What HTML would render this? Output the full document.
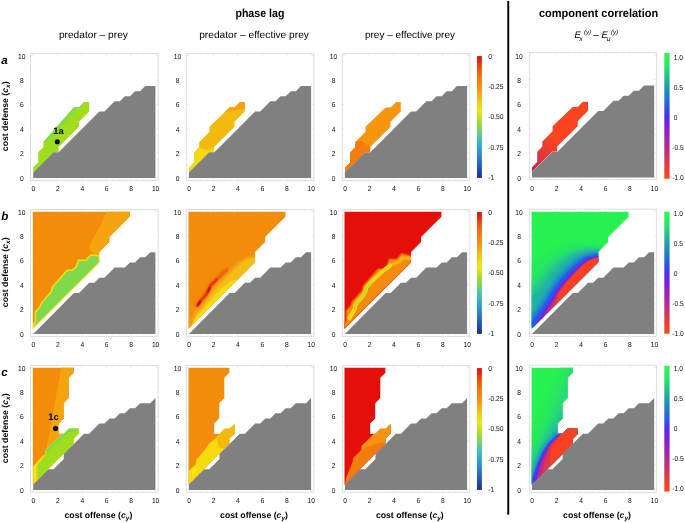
<!DOCTYPE html>
<html lang="en"><head><meta charset="utf-8"><title>phase lag and component correlation</title><style>
html,body{margin:0;padding:0;background:#fff;}
svg{display:block;}
text{font-family:"Liberation Sans", sans-serif;fill:#000;text-rendering:geometricPrecision;}
.tk{font-size:7.2px;text-anchor:middle;fill:#111;}
.cb{font-size:7.2px;fill:#111;}
.ttl{font-size:11.6px;font-weight:bold;}
.sub{font-size:10px;fill:#000;}
.ss{font-size:6.8px;}
.sp{font-size:6.2px;}
.sb{font-size:6.4px;}
.let{font-size:11.6px;font-weight:bold;font-style:italic;}
.ax{font-size:8.7px;font-weight:bold;}
.pt{font-size:9.4px;font-weight:bold;text-anchor:middle;}
</style></head>
<body>
<svg width="685" height="523" viewBox="0 0 685 523">
<defs><clipPath id="e00"><polygon points="33.20,172.52 33.20,167.43 38.29,162.35 38.29,152.18 43.38,147.10 43.38,142.02 53.57,131.85 53.57,126.77 73.93,107.20 79.03,107.20 84.12,102.11 89.21,102.11 89.21,111.52 79.03,121.68 79.03,126.77 58.66,147.10 58.66,152.18 53.57,152.18"/></clipPath>
<clipPath id="e10"><polygon points="188.90,172.52 188.90,167.43 193.99,162.35 193.99,152.18 199.08,147.10 199.08,142.02 209.27,131.85 209.27,126.77 229.63,107.20 234.73,107.20 239.82,102.11 244.91,102.11 244.91,111.52 234.73,121.68 234.73,126.77 214.36,147.10 214.36,152.18 209.27,152.18"/></clipPath>
<clipPath id="e20"><polygon points="344.90,172.52 344.90,167.43 349.99,162.35 349.99,152.18 355.08,147.10 355.08,142.02 365.27,131.85 365.27,126.77 385.63,107.20 390.72,107.20 395.82,102.11 400.91,102.11 400.91,111.52 390.72,121.68 390.72,126.77 370.36,147.10 370.36,152.18 365.27,152.18"/></clipPath>
<clipPath id="e30"><polygon points="532.00,172.02 532.00,166.93 537.09,161.85 537.09,151.68 542.18,146.60 542.18,141.52 552.37,131.35 552.37,126.27 572.73,106.70 577.83,106.70 582.92,101.61 588.01,101.61 588.01,111.02 577.83,121.18 577.83,126.27 557.46,146.60 557.46,151.68 552.37,151.68"/></clipPath>
<linearGradient id="ga4" gradientUnits="userSpaceOnUse" x1="532.0" y1="172.0" x2="567.6" y2="126.3"><stop offset="0" stop-color="#b4285f"/><stop offset="0.25" stop-color="#d83448"/><stop offset="0.5" stop-color="#ee3c30"/><stop offset="0.7" stop-color="#fb4420"/><stop offset="1" stop-color="#fb4420"/></linearGradient>
<clipPath id="e01"><polygon points="32.59,329.13 32.59,211.60 129.94,211.60 129.94,216.68 109.58,237.02 109.58,242.10 99.39,252.27 99.39,262.43"/></clipPath>
<clipPath id="e11"><polygon points="188.29,329.13 188.29,211.60 285.64,211.60 285.64,216.68 265.27,237.02 265.27,242.10 255.09,252.27 255.09,262.43"/></clipPath>
<clipPath id="e21"><polygon points="344.29,329.13 344.29,211.60 441.64,211.60 441.64,216.68 421.27,237.02 421.27,242.10 411.09,252.27 411.09,262.43"/></clipPath>
<clipPath id="e31"><polygon points="531.39,329.13 531.39,211.60 628.74,211.60 628.74,216.68 608.38,237.02 608.38,242.10 598.19,252.27 598.19,262.43"/></clipPath>
<clipPath id="e02"><polygon points="32.59,485.13 32.59,367.60 73.93,367.60 73.93,372.68 68.84,377.77 68.84,398.10 63.75,403.18 63.75,418.43 58.66,423.52 58.66,433.68 63.75,433.68 68.84,428.60 79.03,428.60 79.03,433.68 73.93,438.77 73.93,443.85 48.48,469.27"/></clipPath>
<clipPath id="e12"><polygon points="188.29,485.13 188.29,367.60 229.63,367.60 229.63,372.68 224.54,377.77 224.54,398.10 219.45,403.18 219.45,418.43 214.36,423.52 214.36,433.68 219.45,433.68 224.54,428.60 229.63,428.60 234.73,423.52 234.73,433.68 229.63,438.77 229.63,443.85 204.18,469.27"/></clipPath>
<clipPath id="e22"><polygon points="344.29,485.13 344.29,367.60 385.63,367.60 385.63,372.68 380.54,377.77 380.54,398.10 375.45,403.18 375.45,418.43 370.36,423.52 370.36,433.68 375.45,433.68 380.54,428.60 385.63,428.60 390.72,423.52 390.72,433.68 385.63,438.77 385.63,443.85 360.17,469.27"/></clipPath>
<clipPath id="e32"><polygon points="531.39,485.13 531.39,367.60 572.73,367.60 572.73,372.68 567.64,377.77 567.64,398.10 562.55,403.18 562.55,418.43 557.46,423.52 557.46,433.68 562.55,433.68 567.64,428.60 577.83,428.60 577.83,433.68 572.73,438.77 572.73,443.85 547.27,469.27"/></clipPath>
<linearGradient id="cb1" x1="0" y1="0" x2="0" y2="1"><stop offset="0" stop-color="#d41010"/><stop offset="0.04" stop-color="#e4280e"/><stop offset="0.1" stop-color="#f0540e"/><stop offset="0.18" stop-color="#f4780e"/><stop offset="0.27" stop-color="#f5960f"/><stop offset="0.38" stop-color="#f5cc10"/><stop offset="0.45" stop-color="#f0e614"/><stop offset="0.54" stop-color="#a4dc28"/><stop offset="0.64" stop-color="#5ccc90"/><stop offset="0.72" stop-color="#30b4d2"/><stop offset="0.85" stop-color="#2878c8"/><stop offset="0.95" stop-color="#1e44a8"/><stop offset="1" stop-color="#183094"/></linearGradient>
<linearGradient id="cb2" x1="0" y1="0" x2="0" y2="1"><stop offset="0" stop-color="#2cfa52"/><stop offset="0.12" stop-color="#26e070"/><stop offset="0.27" stop-color="#1e9ca8"/><stop offset="0.42" stop-color="#2a5ce0"/><stop offset="0.5" stop-color="#4a30f0"/><stop offset="0.56" stop-color="#7420e0"/><stop offset="0.75" stop-color="#b42a8c"/><stop offset="0.9" stop-color="#e63c3c"/><stop offset="1" stop-color="#ff4814"/></linearGradient>
<filter id="b1" x="-20%" y="-20%" width="140%" height="140%"><feGaussianBlur stdDeviation="1"/></filter>
<filter id="b15" x="-20%" y="-20%" width="140%" height="140%"><feGaussianBlur stdDeviation="1.6"/></filter>
<filter id="b05" x="-20%" y="-20%" width="140%" height="140%"><feGaussianBlur stdDeviation="0.6"/></filter></defs>
<rect width="685" height="523" fill="#fff"/>
<polygon points="33.20,172.52 33.20,167.43 38.29,162.35 38.29,152.18 43.38,147.10 43.38,142.02 73.93,107.20 79.03,107.20 84.12,102.11 89.21,102.11 89.21,111.52 79.03,121.68 79.03,126.77 58.66,147.10 58.66,152.18 53.57,152.18" fill="#9fde1c" /><polygon points="43.38,142.02 73.93,107.20 79.03,107.20 84.12,102.11 82.08,105.92 76.48,109.48 46.95,141.51" fill="#7fd94e" /><g clip-path="url(#e00)"></g><polygon points="33.20,178.11 33.20,172.52 53.57,152.18 58.66,152.18 99.39,111.52 104.48,111.52 114.67,101.35 119.76,101.35 124.85,96.27 129.94,96.27 135.03,91.18 140.12,91.18 145.22,86.10 155.40,86.10 155.40,178.11" fill="#808080" />
<rect x="30.50" y="53.50" width="127.70" height="126.90" fill="none" stroke="#dadada" stroke-width="0.8"/><path d="M33.20 180.40v-2.0M33.20 53.50v2.0M30.50 177.60h2.0M158.20 177.60h-2.0M39.31 180.40v-1.0M39.31 53.50v1.0M30.50 171.50h1.0M158.20 171.50h-1.0M45.42 180.40v-1.0M45.42 53.50v1.0M30.50 165.40h1.0M158.20 165.40h-1.0M51.53 180.40v-1.0M51.53 53.50v1.0M30.50 159.30h1.0M158.20 159.30h-1.0M57.64 180.40v-2.0M57.64 53.50v2.0M30.50 153.20h2.0M158.20 153.20h-2.0M63.75 180.40v-1.0M63.75 53.50v1.0M30.50 147.10h1.0M158.20 147.10h-1.0M69.86 180.40v-1.0M69.86 53.50v1.0M30.50 141.00h1.0M158.20 141.00h-1.0M75.97 180.40v-1.0M75.97 53.50v1.0M30.50 134.90h1.0M158.20 134.90h-1.0M82.08 180.40v-2.0M82.08 53.50v2.0M30.50 128.80h2.0M158.20 128.80h-2.0M88.19 180.40v-1.0M88.19 53.50v1.0M30.50 122.70h1.0M158.20 122.70h-1.0M94.30 180.40v-1.0M94.30 53.50v1.0M30.50 116.60h1.0M158.20 116.60h-1.0M100.41 180.40v-1.0M100.41 53.50v1.0M30.50 110.50h1.0M158.20 110.50h-1.0M106.52 180.40v-2.0M106.52 53.50v2.0M30.50 104.40h2.0M158.20 104.40h-2.0M112.63 180.40v-1.0M112.63 53.50v1.0M30.50 98.30h1.0M158.20 98.30h-1.0M118.74 180.40v-1.0M118.74 53.50v1.0M30.50 92.20h1.0M158.20 92.20h-1.0M124.85 180.40v-1.0M124.85 53.50v1.0M30.50 86.10h1.0M158.20 86.10h-1.0M130.96 180.40v-2.0M130.96 53.50v2.0M30.50 80.00h2.0M158.20 80.00h-2.0M137.07 180.40v-1.0M137.07 53.50v1.0M30.50 73.90h1.0M158.20 73.90h-1.0M143.18 180.40v-1.0M143.18 53.50v1.0M30.50 67.80h1.0M158.20 67.80h-1.0M149.29 180.40v-1.0M149.29 53.50v1.0M30.50 61.70h1.0M158.20 61.70h-1.0M155.40 180.40v-2.0M155.40 53.50v2.0M30.50 55.60h2.0M158.20 55.60h-2.0" stroke="#cfcfcf" stroke-width="0.5" fill="none"/><text transform="translate(33.40 191.40) scale(0.93 1)" class="tk">0</text><text transform="translate(21.80 181) scale(0.93 1)" class="tk">0</text><text transform="translate(57.84 191.40) scale(0.93 1)" class="tk">2</text><text transform="translate(21.80 156) scale(0.93 1)" class="tk">2</text><text transform="translate(82.28 191.40) scale(0.93 1)" class="tk">4</text><text transform="translate(21.80 132) scale(0.93 1)" class="tk">4</text><text transform="translate(106.72 191.40) scale(0.93 1)" class="tk">6</text><text transform="translate(21.80 107) scale(0.93 1)" class="tk">6</text><text transform="translate(131.16 191.40) scale(0.93 1)" class="tk">8</text><text transform="translate(21.80 83) scale(0.93 1)" class="tk">8</text><text transform="translate(155.60 191.40) scale(0.93 1)" class="tk">10</text><text transform="translate(21.80 59) scale(0.93 1)" class="tk">10</text>
<g clip-path="url(#e10)"><polygon points="188.90,172.52 188.90,167.43 193.99,162.35 193.99,152.18 199.08,147.10 199.08,142.02 209.27,131.85 209.27,126.77 229.63,107.20 234.73,107.20 239.82,102.11 244.91,102.11 244.91,111.52 234.73,121.68 234.73,126.77 214.36,147.10 214.36,152.18 209.27,152.18" fill="#f3ba10" /><polygon points="188.90,172.52 188.90,167.43 193.99,162.35 193.99,152.18 199.08,147.10 199.08,148.12 207.23,150.15 214.36,148.12 214.36,152.18 209.27,152.18" fill="#f5d910" filter="url(#b05)"/><polygon points="224.54,112.28 229.63,106.43 234.73,106.43 239.82,101.35 244.91,101.35 244.91,108.67 236.76,109.48 225.31,112.18" fill="#f5a00c" /></g><polygon points="188.90,178.11 188.90,172.52 209.27,152.18 214.36,152.18 255.09,111.52 260.18,111.52 270.37,101.35 275.46,101.35 280.55,96.27 285.64,96.27 290.73,91.18 295.83,91.18 300.92,86.10 311.10,86.10 311.10,178.11" fill="#808080" />
<rect x="186.20" y="53.50" width="127.70" height="126.90" fill="none" stroke="#dadada" stroke-width="0.8"/><path d="M188.90 180.40v-2.0M188.90 53.50v2.0M186.20 177.60h2.0M313.90 177.60h-2.0M195.01 180.40v-1.0M195.01 53.50v1.0M186.20 171.50h1.0M313.90 171.50h-1.0M201.12 180.40v-1.0M201.12 53.50v1.0M186.20 165.40h1.0M313.90 165.40h-1.0M207.23 180.40v-1.0M207.23 53.50v1.0M186.20 159.30h1.0M313.90 159.30h-1.0M213.34 180.40v-2.0M213.34 53.50v2.0M186.20 153.20h2.0M313.90 153.20h-2.0M219.45 180.40v-1.0M219.45 53.50v1.0M186.20 147.10h1.0M313.90 147.10h-1.0M225.56 180.40v-1.0M225.56 53.50v1.0M186.20 141.00h1.0M313.90 141.00h-1.0M231.67 180.40v-1.0M231.67 53.50v1.0M186.20 134.90h1.0M313.90 134.90h-1.0M237.78 180.40v-2.0M237.78 53.50v2.0M186.20 128.80h2.0M313.90 128.80h-2.0M243.89 180.40v-1.0M243.89 53.50v1.0M186.20 122.70h1.0M313.90 122.70h-1.0M250.00 180.40v-1.0M250.00 53.50v1.0M186.20 116.60h1.0M313.90 116.60h-1.0M256.11 180.40v-1.0M256.11 53.50v1.0M186.20 110.50h1.0M313.90 110.50h-1.0M262.22 180.40v-2.0M262.22 53.50v2.0M186.20 104.40h2.0M313.90 104.40h-2.0M268.33 180.40v-1.0M268.33 53.50v1.0M186.20 98.30h1.0M313.90 98.30h-1.0M274.44 180.40v-1.0M274.44 53.50v1.0M186.20 92.20h1.0M313.90 92.20h-1.0M280.55 180.40v-1.0M280.55 53.50v1.0M186.20 86.10h1.0M313.90 86.10h-1.0M286.66 180.40v-2.0M286.66 53.50v2.0M186.20 80.00h2.0M313.90 80.00h-2.0M292.77 180.40v-1.0M292.77 53.50v1.0M186.20 73.90h1.0M313.90 73.90h-1.0M298.88 180.40v-1.0M298.88 53.50v1.0M186.20 67.80h1.0M313.90 67.80h-1.0M304.99 180.40v-1.0M304.99 53.50v1.0M186.20 61.70h1.0M313.90 61.70h-1.0M311.10 180.40v-2.0M311.10 53.50v2.0M186.20 55.60h2.0M313.90 55.60h-2.0" stroke="#cfcfcf" stroke-width="0.5" fill="none"/><text transform="translate(189.10 191.40) scale(0.93 1)" class="tk">0</text><text transform="translate(177.50 181) scale(0.93 1)" class="tk">0</text><text transform="translate(213.54 191.40) scale(0.93 1)" class="tk">2</text><text transform="translate(177.50 156) scale(0.93 1)" class="tk">2</text><text transform="translate(237.98 191.40) scale(0.93 1)" class="tk">4</text><text transform="translate(177.50 132) scale(0.93 1)" class="tk">4</text><text transform="translate(262.42 191.40) scale(0.93 1)" class="tk">6</text><text transform="translate(177.50 107) scale(0.93 1)" class="tk">6</text><text transform="translate(286.86 191.40) scale(0.93 1)" class="tk">8</text><text transform="translate(177.50 83) scale(0.93 1)" class="tk">8</text><text transform="translate(311.30 191.40) scale(0.93 1)" class="tk">10</text><text transform="translate(177.50 59) scale(0.93 1)" class="tk">10</text>
<g clip-path="url(#e20)"><polygon points="344.90,172.52 344.90,167.43 349.99,162.35 349.99,152.18 355.08,147.10 355.08,142.02 365.27,131.85 365.27,126.77 385.63,107.20 390.72,107.20 395.82,102.11 400.91,102.11 400.91,111.52 390.72,121.68 390.72,126.77 370.36,147.10 370.36,152.18 365.27,152.18" fill="#f7950f" /><polygon points="344.90,172.52 344.90,167.43 349.99,162.35 349.99,152.18 355.08,147.10 355.08,142.02 360.17,140.49 364.25,143.03 370.36,147.10 370.36,152.18 365.27,152.18" fill="#f47d0e" /></g><polygon points="344.90,178.11 344.90,172.52 365.27,152.18 370.36,152.18 411.09,111.52 416.18,111.52 426.37,101.35 431.46,101.35 436.55,96.27 441.64,96.27 446.73,91.18 451.82,91.18 456.92,86.10 467.10,86.10 467.10,178.11" fill="#808080" />
<rect x="342.20" y="53.50" width="127.70" height="126.90" fill="none" stroke="#dadada" stroke-width="0.8"/><path d="M344.90 180.40v-2.0M344.90 53.50v2.0M342.20 177.60h2.0M469.90 177.60h-2.0M351.01 180.40v-1.0M351.01 53.50v1.0M342.20 171.50h1.0M469.90 171.50h-1.0M357.12 180.40v-1.0M357.12 53.50v1.0M342.20 165.40h1.0M469.90 165.40h-1.0M363.23 180.40v-1.0M363.23 53.50v1.0M342.20 159.30h1.0M469.90 159.30h-1.0M369.34 180.40v-2.0M369.34 53.50v2.0M342.20 153.20h2.0M469.90 153.20h-2.0M375.45 180.40v-1.0M375.45 53.50v1.0M342.20 147.10h1.0M469.90 147.10h-1.0M381.56 180.40v-1.0M381.56 53.50v1.0M342.20 141.00h1.0M469.90 141.00h-1.0M387.67 180.40v-1.0M387.67 53.50v1.0M342.20 134.90h1.0M469.90 134.90h-1.0M393.78 180.40v-2.0M393.78 53.50v2.0M342.20 128.80h2.0M469.90 128.80h-2.0M399.89 180.40v-1.0M399.89 53.50v1.0M342.20 122.70h1.0M469.90 122.70h-1.0M406.00 180.40v-1.0M406.00 53.50v1.0M342.20 116.60h1.0M469.90 116.60h-1.0M412.11 180.40v-1.0M412.11 53.50v1.0M342.20 110.50h1.0M469.90 110.50h-1.0M418.22 180.40v-2.0M418.22 53.50v2.0M342.20 104.40h2.0M469.90 104.40h-2.0M424.33 180.40v-1.0M424.33 53.50v1.0M342.20 98.30h1.0M469.90 98.30h-1.0M430.44 180.40v-1.0M430.44 53.50v1.0M342.20 92.20h1.0M469.90 92.20h-1.0M436.55 180.40v-1.0M436.55 53.50v1.0M342.20 86.10h1.0M469.90 86.10h-1.0M442.66 180.40v-2.0M442.66 53.50v2.0M342.20 80.00h2.0M469.90 80.00h-2.0M448.77 180.40v-1.0M448.77 53.50v1.0M342.20 73.90h1.0M469.90 73.90h-1.0M454.88 180.40v-1.0M454.88 53.50v1.0M342.20 67.80h1.0M469.90 67.80h-1.0M460.99 180.40v-1.0M460.99 53.50v1.0M342.20 61.70h1.0M469.90 61.70h-1.0M467.10 180.40v-2.0M467.10 53.50v2.0M342.20 55.60h2.0M469.90 55.60h-2.0" stroke="#cfcfcf" stroke-width="0.5" fill="none"/><text transform="translate(345.10 191.40) scale(0.93 1)" class="tk">0</text><text transform="translate(333.50 181) scale(0.93 1)" class="tk">0</text><text transform="translate(369.54 191.40) scale(0.93 1)" class="tk">2</text><text transform="translate(333.50 156) scale(0.93 1)" class="tk">2</text><text transform="translate(393.98 191.40) scale(0.93 1)" class="tk">4</text><text transform="translate(333.50 132) scale(0.93 1)" class="tk">4</text><text transform="translate(418.42 191.40) scale(0.93 1)" class="tk">6</text><text transform="translate(333.50 107) scale(0.93 1)" class="tk">6</text><text transform="translate(442.86 191.40) scale(0.93 1)" class="tk">8</text><text transform="translate(333.50 83) scale(0.93 1)" class="tk">8</text><text transform="translate(467.30 191.40) scale(0.93 1)" class="tk">10</text><text transform="translate(333.50 59) scale(0.93 1)" class="tk">10</text>
<g clip-path="url(#e30)"><polygon points="532.00,172.02 532.00,166.93 537.09,161.85 537.09,151.68 542.18,146.60 542.18,141.52 552.37,131.35 552.37,126.27 572.73,106.70 577.83,106.70 582.92,101.61 588.01,101.61 588.01,111.02 577.83,121.18 577.83,126.27 557.46,146.60 557.46,151.68 552.37,151.68" fill="url(#ga4)" /></g><polygon points="532.00,177.61 532.00,172.02 552.37,151.68 557.46,151.68 598.19,111.02 603.28,111.02 613.47,100.85 618.56,100.85 623.65,95.77 628.74,95.77 633.83,90.68 638.92,90.68 644.02,85.60 654.20,85.60 654.20,177.61" fill="#808080" />
<rect x="529.30" y="52.60" width="127.10" height="127.00" fill="none" stroke="#dadada" stroke-width="0.8"/><path d="M532.00 179.60v-2.0M532.00 52.60v2.0M529.30 177.10h2.0M656.40 177.10h-2.0M538.11 179.60v-1.0M538.11 52.60v1.0M529.30 171.00h1.0M656.40 171.00h-1.0M544.22 179.60v-1.0M544.22 52.60v1.0M529.30 164.90h1.0M656.40 164.90h-1.0M550.33 179.60v-1.0M550.33 52.60v1.0M529.30 158.80h1.0M656.40 158.80h-1.0M556.44 179.60v-2.0M556.44 52.60v2.0M529.30 152.70h2.0M656.40 152.70h-2.0M562.55 179.60v-1.0M562.55 52.60v1.0M529.30 146.60h1.0M656.40 146.60h-1.0M568.66 179.60v-1.0M568.66 52.60v1.0M529.30 140.50h1.0M656.40 140.50h-1.0M574.77 179.60v-1.0M574.77 52.60v1.0M529.30 134.40h1.0M656.40 134.40h-1.0M580.88 179.60v-2.0M580.88 52.60v2.0M529.30 128.30h2.0M656.40 128.30h-2.0M586.99 179.60v-1.0M586.99 52.60v1.0M529.30 122.20h1.0M656.40 122.20h-1.0M593.10 179.60v-1.0M593.10 52.60v1.0M529.30 116.10h1.0M656.40 116.10h-1.0M599.21 179.60v-1.0M599.21 52.60v1.0M529.30 110.00h1.0M656.40 110.00h-1.0M605.32 179.60v-2.0M605.32 52.60v2.0M529.30 103.90h2.0M656.40 103.90h-2.0M611.43 179.60v-1.0M611.43 52.60v1.0M529.30 97.80h1.0M656.40 97.80h-1.0M617.54 179.60v-1.0M617.54 52.60v1.0M529.30 91.70h1.0M656.40 91.70h-1.0M623.65 179.60v-1.0M623.65 52.60v1.0M529.30 85.60h1.0M656.40 85.60h-1.0M629.76 179.60v-2.0M629.76 52.60v2.0M529.30 79.50h2.0M656.40 79.50h-2.0M635.87 179.60v-1.0M635.87 52.60v1.0M529.30 73.40h1.0M656.40 73.40h-1.0M641.98 179.60v-1.0M641.98 52.60v1.0M529.30 67.30h1.0M656.40 67.30h-1.0M648.09 179.60v-1.0M648.09 52.60v1.0M529.30 61.20h1.0M656.40 61.20h-1.0M654.20 179.60v-2.0M654.20 52.60v2.0M529.30 55.10h2.0M656.40 55.10h-2.0" stroke="#cfcfcf" stroke-width="0.5" fill="none"/><text transform="translate(532.20 191.40) scale(0.93 1)" class="tk">0</text><text transform="translate(519.00 181) scale(0.93 1)" class="tk">0</text><text transform="translate(556.64 191.40) scale(0.93 1)" class="tk">2</text><text transform="translate(519.00 156) scale(0.93 1)" class="tk">2</text><text transform="translate(581.08 191.40) scale(0.93 1)" class="tk">4</text><text transform="translate(519.00 132) scale(0.93 1)" class="tk">4</text><text transform="translate(605.52 191.40) scale(0.93 1)" class="tk">6</text><text transform="translate(519.00 107) scale(0.93 1)" class="tk">6</text><text transform="translate(629.96 191.40) scale(0.93 1)" class="tk">8</text><text transform="translate(519.00 83) scale(0.93 1)" class="tk">8</text><text transform="translate(654.40 191.40) scale(0.93 1)" class="tk">10</text><text transform="translate(519.00 59) scale(0.93 1)" class="tk">10</text>
<g clip-path="url(#e01)"><polygon points="32.59,329.13 32.59,211.60 129.94,211.60 129.94,216.68 109.58,237.02 109.58,242.10 99.39,252.27 99.39,262.43" fill="#f28c0a" /><polygon points="106.52,211.60 101.94,223.29 91.75,240.58 89.21,246.17 89.72,249.73 93.79,253.28 99.39,254.81 99.39,252.27 109.58,242.10 109.58,237.02 129.94,216.68 129.94,211.60" fill="#f5a30f" /><polygon points="33.20,328.52 33.20,325.57 35.44,321.81 35.44,311.89 39.92,306.91 41.19,303.20 51.12,292.02 52.40,287.09 67.31,270.16 72.25,270.16 75.97,267.21 78.52,260.25 85.95,260.25 90.94,254.81 99.39,255.83 99.39,262.43" fill="#80d84c" stroke="#f2e20c" stroke-width="1.5" stroke-linejoin="round"/></g><polygon points="33.20,334.11 73.93,292.93 79.03,292.93 89.21,282.77 94.30,282.77 99.39,277.68 104.48,277.68 114.67,267.52 124.85,267.52 129.94,262.43 135.03,262.43 140.12,257.35 145.22,257.35 150.31,252.27 155.40,252.27 155.40,334.11" fill="#808080" />
<rect x="30.50" y="209.50" width="127.70" height="126.90" fill="none" stroke="#dadada" stroke-width="0.8"/><path d="M33.20 336.40v-2.0M33.20 209.50v2.0M30.50 333.60h2.0M158.20 333.60h-2.0M39.31 336.40v-1.0M39.31 209.50v1.0M30.50 327.50h1.0M158.20 327.50h-1.0M45.42 336.40v-1.0M45.42 209.50v1.0M30.50 321.40h1.0M158.20 321.40h-1.0M51.53 336.40v-1.0M51.53 209.50v1.0M30.50 315.30h1.0M158.20 315.30h-1.0M57.64 336.40v-2.0M57.64 209.50v2.0M30.50 309.20h2.0M158.20 309.20h-2.0M63.75 336.40v-1.0M63.75 209.50v1.0M30.50 303.10h1.0M158.20 303.10h-1.0M69.86 336.40v-1.0M69.86 209.50v1.0M30.50 297.00h1.0M158.20 297.00h-1.0M75.97 336.40v-1.0M75.97 209.50v1.0M30.50 290.90h1.0M158.20 290.90h-1.0M82.08 336.40v-2.0M82.08 209.50v2.0M30.50 284.80h2.0M158.20 284.80h-2.0M88.19 336.40v-1.0M88.19 209.50v1.0M30.50 278.70h1.0M158.20 278.70h-1.0M94.30 336.40v-1.0M94.30 209.50v1.0M30.50 272.60h1.0M158.20 272.60h-1.0M100.41 336.40v-1.0M100.41 209.50v1.0M30.50 266.50h1.0M158.20 266.50h-1.0M106.52 336.40v-2.0M106.52 209.50v2.0M30.50 260.40h2.0M158.20 260.40h-2.0M112.63 336.40v-1.0M112.63 209.50v1.0M30.50 254.30h1.0M158.20 254.30h-1.0M118.74 336.40v-1.0M118.74 209.50v1.0M30.50 248.20h1.0M158.20 248.20h-1.0M124.85 336.40v-1.0M124.85 209.50v1.0M30.50 242.10h1.0M158.20 242.10h-1.0M130.96 336.40v-2.0M130.96 209.50v2.0M30.50 236.00h2.0M158.20 236.00h-2.0M137.07 336.40v-1.0M137.07 209.50v1.0M30.50 229.90h1.0M158.20 229.90h-1.0M143.18 336.40v-1.0M143.18 209.50v1.0M30.50 223.80h1.0M158.20 223.80h-1.0M149.29 336.40v-1.0M149.29 209.50v1.0M30.50 217.70h1.0M158.20 217.70h-1.0M155.40 336.40v-2.0M155.40 209.50v2.0M30.50 211.60h2.0M158.20 211.60h-2.0" stroke="#cfcfcf" stroke-width="0.5" fill="none"/><text transform="translate(33.40 347.40) scale(0.93 1)" class="tk">0</text><text transform="translate(21.80 337) scale(0.93 1)" class="tk">0</text><text transform="translate(57.84 347.40) scale(0.93 1)" class="tk">2</text><text transform="translate(21.80 312) scale(0.93 1)" class="tk">2</text><text transform="translate(82.28 347.40) scale(0.93 1)" class="tk">4</text><text transform="translate(21.80 288) scale(0.93 1)" class="tk">4</text><text transform="translate(106.72 347.40) scale(0.93 1)" class="tk">6</text><text transform="translate(21.80 263) scale(0.93 1)" class="tk">6</text><text transform="translate(131.16 347.40) scale(0.93 1)" class="tk">8</text><text transform="translate(21.80 239) scale(0.93 1)" class="tk">8</text><text transform="translate(155.60 347.40) scale(0.93 1)" class="tk">10</text><text transform="translate(21.80 215) scale(0.93 1)" class="tk">10</text>
<g clip-path="url(#e11)"><polygon points="188.29,329.13 188.29,211.60 285.64,211.60 285.64,216.68 265.27,237.02 265.27,242.10 255.09,252.27 255.09,262.43" fill="#f28c0a" /><polygon points="188.90,328.52 188.90,322.42 195.01,310.22 204.18,297.00 210.79,286.83 226.07,272.60 234.73,264.47 244.91,257.86 255.09,255.32 255.09,262.43" fill="#f5a616" filter="url(#b1)"/><polygon points="188.90,328.52 188.90,325.47 190.58,322.42 196.69,314.69 202.85,307.01 207.43,299.39 212.02,293.29 219.70,285.61 225.81,277.99 231.92,271.89 239.56,264.21 247.25,258.88 255.09,257.35 255.09,262.43" fill="#f5bc14" filter="url(#b05)"/><polygon points="191.96,325.47 192.97,322.42 195.52,318.86 201.12,311.74 205.70,305.64 211.81,298.53 216.40,292.93 224.03,286.33 230.65,281.24 235.74,279.72 235.74,281.75" fill="#f5d812" filter="url(#b05)"/><polygon points="195.01,319.37 198.57,313.78 202.14,313.27 197.56,319.37" fill="#e4ee14" filter="url(#b05)"/><polygon points="188.90,328.52 188.90,321.40 191.96,318.86 193.48,321.40 191.45,325.47" fill="#f59a10" filter="url(#b05)"/><polyline points="197.45,305.49 200.56,300.91 205.91,294.81 208.96,289.43 210.49,285.61 216.60,279.51 222.76,273.41 226.58,270.31" fill="none" stroke="#ee6410" stroke-width="4.4" stroke-linecap="round" stroke-linejoin="round" filter="url(#b1)"/><polyline points="197.45,305.49 200.56,300.91 205.91,294.81 208.96,289.43 210.49,285.61 216.60,279.51" fill="none" stroke="#e43810" stroke-width="2.8" stroke-linecap="round" stroke-linejoin="round" filter="url(#b05)"/><polyline points="197.81,305.13 200.10,301.58" fill="none" stroke="#c81010" stroke-width="2.4" stroke-linecap="round" stroke-linejoin="round" filter="url(#b05)"/><polyline points="207.74,291.92 209.78,287.85" fill="none" stroke="#d01810" stroke-width="2.2" stroke-linecap="round" stroke-linejoin="round" filter="url(#b05)"/></g><polygon points="188.90,334.11 229.63,292.93 234.73,292.93 244.91,282.77 250.00,282.77 255.09,277.68 260.18,277.68 270.37,267.52 280.55,267.52 285.64,262.43 290.73,262.43 295.83,257.35 300.92,257.35 306.01,252.27 311.10,252.27 311.10,334.11" fill="#808080" />
<rect x="186.20" y="209.50" width="127.70" height="126.90" fill="none" stroke="#dadada" stroke-width="0.8"/><path d="M188.90 336.40v-2.0M188.90 209.50v2.0M186.20 333.60h2.0M313.90 333.60h-2.0M195.01 336.40v-1.0M195.01 209.50v1.0M186.20 327.50h1.0M313.90 327.50h-1.0M201.12 336.40v-1.0M201.12 209.50v1.0M186.20 321.40h1.0M313.90 321.40h-1.0M207.23 336.40v-1.0M207.23 209.50v1.0M186.20 315.30h1.0M313.90 315.30h-1.0M213.34 336.40v-2.0M213.34 209.50v2.0M186.20 309.20h2.0M313.90 309.20h-2.0M219.45 336.40v-1.0M219.45 209.50v1.0M186.20 303.10h1.0M313.90 303.10h-1.0M225.56 336.40v-1.0M225.56 209.50v1.0M186.20 297.00h1.0M313.90 297.00h-1.0M231.67 336.40v-1.0M231.67 209.50v1.0M186.20 290.90h1.0M313.90 290.90h-1.0M237.78 336.40v-2.0M237.78 209.50v2.0M186.20 284.80h2.0M313.90 284.80h-2.0M243.89 336.40v-1.0M243.89 209.50v1.0M186.20 278.70h1.0M313.90 278.70h-1.0M250.00 336.40v-1.0M250.00 209.50v1.0M186.20 272.60h1.0M313.90 272.60h-1.0M256.11 336.40v-1.0M256.11 209.50v1.0M186.20 266.50h1.0M313.90 266.50h-1.0M262.22 336.40v-2.0M262.22 209.50v2.0M186.20 260.40h2.0M313.90 260.40h-2.0M268.33 336.40v-1.0M268.33 209.50v1.0M186.20 254.30h1.0M313.90 254.30h-1.0M274.44 336.40v-1.0M274.44 209.50v1.0M186.20 248.20h1.0M313.90 248.20h-1.0M280.55 336.40v-1.0M280.55 209.50v1.0M186.20 242.10h1.0M313.90 242.10h-1.0M286.66 336.40v-2.0M286.66 209.50v2.0M186.20 236.00h2.0M313.90 236.00h-2.0M292.77 336.40v-1.0M292.77 209.50v1.0M186.20 229.90h1.0M313.90 229.90h-1.0M298.88 336.40v-1.0M298.88 209.50v1.0M186.20 223.80h1.0M313.90 223.80h-1.0M304.99 336.40v-1.0M304.99 209.50v1.0M186.20 217.70h1.0M313.90 217.70h-1.0M311.10 336.40v-2.0M311.10 209.50v2.0M186.20 211.60h2.0M313.90 211.60h-2.0" stroke="#cfcfcf" stroke-width="0.5" fill="none"/><text transform="translate(189.10 347.40) scale(0.93 1)" class="tk">0</text><text transform="translate(177.50 337) scale(0.93 1)" class="tk">0</text><text transform="translate(213.54 347.40) scale(0.93 1)" class="tk">2</text><text transform="translate(177.50 312) scale(0.93 1)" class="tk">2</text><text transform="translate(237.98 347.40) scale(0.93 1)" class="tk">4</text><text transform="translate(177.50 288) scale(0.93 1)" class="tk">4</text><text transform="translate(262.42 347.40) scale(0.93 1)" class="tk">6</text><text transform="translate(177.50 263) scale(0.93 1)" class="tk">6</text><text transform="translate(286.86 347.40) scale(0.93 1)" class="tk">8</text><text transform="translate(177.50 239) scale(0.93 1)" class="tk">8</text><text transform="translate(311.30 347.40) scale(0.93 1)" class="tk">10</text><text transform="translate(177.50 215) scale(0.93 1)" class="tk">10</text>
<g clip-path="url(#e21)"><polygon points="344.29,329.13 344.29,211.60 441.64,211.60 441.64,216.68 421.27,237.02 421.27,242.10 411.09,252.27 411.09,262.43" fill="#e50f0a" /><polygon points="344.90,328.52 343.88,324.30 346.12,320.54 346.12,310.62 350.60,305.64 351.88,301.93 361.80,290.75 363.08,285.82 378.00,268.89 382.93,268.89 386.65,265.94 389.20,258.98 396.63,258.98 401.62,253.54 411.09,255.83 411.09,262.43" fill="#f58c10" stroke="#f0500c" stroke-width="1.2"/><polyline points="349.48,318.35 354.73,309.20 355.39,305.13 358.14,301.07 362.21,297.00 365.27,291.92 366.28,287.85 370.87,282.26 376.98,276.41 382.07,271.58 386.14,268.53 390.22,265.48 397.85,262.43 402.94,257.86 410.07,258.37" fill="none" stroke="#f5b012" stroke-width="3.4" stroke-linecap="round" stroke-linejoin="round" filter="url(#b05)"/><polyline points="349.48,318.35 354.73,309.20 355.39,305.13 358.14,301.07 362.21,297.00 365.27,291.92 366.28,287.85 370.87,282.26 376.98,276.41 382.07,271.58 386.14,268.53 390.22,265.48" fill="none" stroke="#f5d616" stroke-width="4.0" stroke-linecap="round" stroke-linejoin="round" filter="url(#b05)"/><polyline points="354.73,309.20 355.39,305.13 358.14,301.07 362.21,297.00 365.27,291.92 366.28,287.85 370.87,282.26" fill="none" stroke="#b4e21e" stroke-width="1.7" stroke-linecap="round" stroke-linejoin="round" filter="url(#b05)"/><circle cx="349.99" cy="317.33" r="1.9" fill="#f5e016" filter="url(#b05)"/><circle cx="349.99" cy="317.33" r="0.8" fill="#b4e21e" filter="url(#b05)"/></g><polygon points="344.90,334.11 385.63,292.93 390.72,292.93 400.91,282.77 406.00,282.77 411.09,277.68 416.18,277.68 426.37,267.52 436.55,267.52 441.64,262.43 446.73,262.43 451.82,257.35 456.92,257.35 462.01,252.27 467.10,252.27 467.10,334.11" fill="#808080" />
<rect x="342.20" y="209.50" width="127.70" height="126.90" fill="none" stroke="#dadada" stroke-width="0.8"/><path d="M344.90 336.40v-2.0M344.90 209.50v2.0M342.20 333.60h2.0M469.90 333.60h-2.0M351.01 336.40v-1.0M351.01 209.50v1.0M342.20 327.50h1.0M469.90 327.50h-1.0M357.12 336.40v-1.0M357.12 209.50v1.0M342.20 321.40h1.0M469.90 321.40h-1.0M363.23 336.40v-1.0M363.23 209.50v1.0M342.20 315.30h1.0M469.90 315.30h-1.0M369.34 336.40v-2.0M369.34 209.50v2.0M342.20 309.20h2.0M469.90 309.20h-2.0M375.45 336.40v-1.0M375.45 209.50v1.0M342.20 303.10h1.0M469.90 303.10h-1.0M381.56 336.40v-1.0M381.56 209.50v1.0M342.20 297.00h1.0M469.90 297.00h-1.0M387.67 336.40v-1.0M387.67 209.50v1.0M342.20 290.90h1.0M469.90 290.90h-1.0M393.78 336.40v-2.0M393.78 209.50v2.0M342.20 284.80h2.0M469.90 284.80h-2.0M399.89 336.40v-1.0M399.89 209.50v1.0M342.20 278.70h1.0M469.90 278.70h-1.0M406.00 336.40v-1.0M406.00 209.50v1.0M342.20 272.60h1.0M469.90 272.60h-1.0M412.11 336.40v-1.0M412.11 209.50v1.0M342.20 266.50h1.0M469.90 266.50h-1.0M418.22 336.40v-2.0M418.22 209.50v2.0M342.20 260.40h2.0M469.90 260.40h-2.0M424.33 336.40v-1.0M424.33 209.50v1.0M342.20 254.30h1.0M469.90 254.30h-1.0M430.44 336.40v-1.0M430.44 209.50v1.0M342.20 248.20h1.0M469.90 248.20h-1.0M436.55 336.40v-1.0M436.55 209.50v1.0M342.20 242.10h1.0M469.90 242.10h-1.0M442.66 336.40v-2.0M442.66 209.50v2.0M342.20 236.00h2.0M469.90 236.00h-2.0M448.77 336.40v-1.0M448.77 209.50v1.0M342.20 229.90h1.0M469.90 229.90h-1.0M454.88 336.40v-1.0M454.88 209.50v1.0M342.20 223.80h1.0M469.90 223.80h-1.0M460.99 336.40v-1.0M460.99 209.50v1.0M342.20 217.70h1.0M469.90 217.70h-1.0M467.10 336.40v-2.0M467.10 209.50v2.0M342.20 211.60h2.0M469.90 211.60h-2.0" stroke="#cfcfcf" stroke-width="0.5" fill="none"/><text transform="translate(345.10 347.40) scale(0.93 1)" class="tk">0</text><text transform="translate(333.50 337) scale(0.93 1)" class="tk">0</text><text transform="translate(369.54 347.40) scale(0.93 1)" class="tk">2</text><text transform="translate(333.50 312) scale(0.93 1)" class="tk">2</text><text transform="translate(393.98 347.40) scale(0.93 1)" class="tk">4</text><text transform="translate(333.50 288) scale(0.93 1)" class="tk">4</text><text transform="translate(418.42 347.40) scale(0.93 1)" class="tk">6</text><text transform="translate(333.50 263) scale(0.93 1)" class="tk">6</text><text transform="translate(442.86 347.40) scale(0.93 1)" class="tk">8</text><text transform="translate(333.50 239) scale(0.93 1)" class="tk">8</text><text transform="translate(467.30 347.40) scale(0.93 1)" class="tk">10</text><text transform="translate(333.50 215) scale(0.93 1)" class="tk">10</text>
<g clip-path="url(#e31)"><polygon points="531.39,329.13 531.39,211.60 628.74,211.60 628.74,216.68 608.38,237.02 608.38,242.10 598.19,252.27 598.19,262.43" fill="#27f24f" /><polygon points="532.00,262.43 533.16,261.59 534.32,260.74 535.48,259.89 536.63,259.04 537.79,258.19 538.95,257.34 540.12,256.50 541.30,255.68 542.48,254.85 543.66,254.03 544.85,253.20 546.03,252.38 547.21,251.55 548.39,250.73 549.57,249.90 550.96,249.28 552.40,248.72 553.85,248.15 555.29,247.59 556.73,247.02 558.18,246.46 559.62,245.90 561.06,245.33 562.64,244.90 564.29,244.54 565.93,244.17 567.57,243.81 569.22,243.45 570.88,243.10 572.73,242.94 574.58,242.78 576.43,242.63 578.28,242.47 580.20,242.39 582.32,242.50 584.44,242.61 599.72,242.61 599.72,262.43 598.19,262.43 532.00,328.52" fill="#26ea5c" filter="url(#b15)"/><polygon points="532.00,277.68 533.46,276.71 534.92,275.74 536.10,274.49 537.26,273.22 538.41,271.94 539.57,270.67 540.74,269.40 541.90,268.14 543.07,266.88 544.24,265.62 545.41,264.36 546.64,263.15 548.00,262.08 549.35,261.01 550.71,259.94 552.07,258.87 553.43,257.79 554.79,256.72 556.19,255.69 557.79,254.85 559.38,254.02 560.98,253.18 562.58,252.35 564.17,251.51 565.77,250.68 567.50,249.98 569.38,249.42 571.26,248.87 573.14,248.32 575.02,247.77 577.10,247.42 579.21,247.10 581.32,246.78 583.43,246.46 585.71,246.30 588.01,246.17 599.72,246.17 599.72,262.43 598.19,262.43 532.00,328.52" fill="#25de70" filter="url(#b15)"/><polygon points="532.00,287.85 533.49,286.63 534.98,285.40 536.40,284.11 537.83,282.83 539.26,281.54 540.58,280.15 541.73,278.59 542.89,277.03 544.04,275.47 545.23,273.94 546.43,272.43 547.63,270.92 548.83,269.41 550.03,267.89 551.41,266.56 552.85,265.28 554.28,264.01 555.72,262.73 557.16,261.46 558.60,260.18 560.13,259.00 561.83,257.99 563.53,256.97 565.22,255.95 566.92,254.94 568.62,253.92 570.42,253.01 572.39,252.27 574.37,251.53 576.34,250.79 578.38,250.11 580.59,249.61 582.81,249.11 585.02,248.61 587.48,248.35 590.04,248.20 599.72,248.20 599.72,262.43 598.19,262.43 532.00,328.52" fill="#23c88c" filter="url(#b15)"/><polygon points="532.00,295.98 533.70,294.74 535.39,293.50 537.09,292.26 538.79,291.01 540.23,289.51 541.40,287.75 542.58,285.99 543.76,284.23 545.01,282.54 546.26,280.85 547.51,279.16 548.79,277.50 550.09,275.86 551.39,274.22 552.69,272.59 554.01,270.97 555.52,269.54 557.04,268.11 558.55,266.69 560.07,265.26 561.58,263.84 563.13,262.45 564.83,261.21 566.53,259.97 568.23,258.73 569.93,257.49 571.64,256.25 573.54,255.21 575.54,254.28 577.55,253.34 579.55,252.41 581.89,251.81 584.29,251.27 586.69,250.73 589.30,250.40 592.08,250.23 599.72,250.23 599.72,262.43 598.19,262.43 532.00,328.52" fill="#20b0a8" filter="url(#b1)"/><polygon points="532.00,312.76 533.89,311.25 535.45,309.39 536.82,307.37 538.20,305.34 539.58,303.31 540.93,301.26 542.28,299.20 543.63,297.15 544.95,295.06 546.14,292.85 547.34,290.64 548.56,288.46 549.93,286.42 551.29,284.38 552.68,282.36 554.15,280.42 555.61,278.48 557.08,276.55 558.62,274.68 560.31,272.96 561.99,271.24 563.67,269.51 565.36,267.79 567.07,266.10 568.88,264.51 570.70,262.91 572.51,261.32 574.32,259.72 576.30,258.29 578.47,257.06 580.63,255.82 582.90,254.68 585.59,253.96 588.28,253.24 591.09,252.64 594.12,252.27 599.72,252.27 599.72,262.43 598.19,262.43 532.00,328.52" fill="#1e94c4" filter="url(#b1)"/><polygon points="532.00,318.35 533.51,316.30 535.03,314.26 536.53,312.20 537.97,310.08 539.41,307.96 540.85,305.84 542.28,303.70 543.69,301.55 545.10,299.40 546.51,297.25 547.85,295.03 549.18,292.81 550.53,290.60 551.96,288.46 553.38,286.33 554.84,284.22 556.38,282.20 557.91,280.17 559.45,278.14 561.11,276.25 562.87,274.45 564.63,272.65 566.40,270.85 568.16,269.05 570.00,267.33 571.87,265.64 573.74,263.95 575.61,262.26 577.52,260.60 579.66,259.18 581.80,257.76 583.93,256.33 586.66,255.49 589.38,254.65 592.17,253.88 595.14,253.28 599.72,253.28 599.72,262.43 598.19,262.43 532.00,328.52" fill="#2474dc" filter="url(#b1)"/><polygon points="532.00,321.91 533.57,319.82 535.03,317.62 536.50,315.43 537.97,313.24 539.45,311.06 540.93,308.88 542.40,306.70 543.87,304.50 545.32,302.29 546.77,300.08 548.19,297.85 549.57,295.56 550.94,293.27 552.36,291.04 553.83,288.84 555.29,286.65 556.85,284.55 558.44,282.48 560.03,280.41 561.65,278.37 563.44,276.50 565.23,274.62 567.02,272.75 568.80,270.88 570.64,269.05 572.54,267.29 574.44,265.53 576.34,263.77 578.24,262.01 580.39,260.50 582.55,259.01 584.72,257.51 587.45,256.58 590.24,255.71 593.10,254.91 596.15,254.30 599.72,254.30 599.72,262.43 598.19,262.43 532.00,328.52" fill="#2c56ea" filter="url(#b05)"/><polygon points="536.07,324.45 537.28,322.04 538.49,319.63 539.69,317.22 541.02,314.93 542.41,312.70 543.80,310.48 545.19,308.25 546.63,306.07 548.06,303.88 549.49,301.70 550.88,299.47 552.24,297.21 553.60,294.95 555.00,292.74 556.41,290.53 557.82,288.33 559.40,286.29 560.99,284.26 562.58,282.23 564.22,280.26 565.99,278.41 567.76,276.56 569.53,274.71 571.29,272.86 573.08,271.03 574.89,269.22 576.70,267.42 578.52,265.61 580.33,263.81 582.37,262.23 584.41,260.65 586.46,259.08 589.23,258.23 592.05,257.43 594.87,256.63 597.68,255.83 599.72,255.83 599.72,262.43 598.19,262.43 532.00,328.52" fill="#6a28e6" filter="url(#b05)"/><polygon points="542.18,318.35 543.34,316.23 544.51,314.12 545.67,312.00 546.83,309.88 548.16,307.94 549.50,306.00 550.84,304.06 552.13,302.08 553.28,299.95 554.43,297.82 555.59,295.70 556.82,293.65 558.05,291.61 559.29,289.57 560.74,287.74 562.19,285.91 563.64,284.09 565.10,282.26 566.68,280.56 568.26,278.87 569.84,277.17 571.43,275.48 573.01,273.78 574.62,272.11 576.24,270.45 577.86,268.79 579.48,267.14 581.10,265.48 582.87,263.97 584.69,262.51 586.51,261.05 588.57,259.83 591.07,259.05 593.57,258.28 596.11,257.53 598.70,256.84 599.72,256.84 599.72,262.43 598.19,262.43 532.00,328.52" fill="#b82a8c" filter="url(#b05)"/><polygon points="548.80,311.74 549.90,309.92 550.99,308.11 552.08,306.29 553.17,304.47 554.09,302.48 554.96,300.44 555.84,298.40 556.75,296.40 557.74,294.48 558.73,292.56 559.72,290.64 560.94,288.96 562.22,287.32 563.50,285.69 564.78,284.06 566.08,282.45 567.47,280.93 568.86,279.41 570.25,277.89 571.64,276.36 573.03,274.84 574.43,273.33 575.87,271.86 577.31,270.39 578.75,268.92 580.18,267.44 581.62,265.97 583.19,264.63 584.81,263.33 586.42,262.04 588.04,260.74 590.17,259.96 592.36,259.24 594.56,258.52 596.81,257.86 598.27,256.41 599.72,256.41 599.72,262.43 598.19,262.43 532.00,328.52" fill="#de3650" filter="url(#b05)"/><polygon points="554.91,305.64 555.56,303.71 556.20,301.79 556.84,299.86 557.49,297.94 558.26,296.14 559.04,294.34 559.81,292.54 560.61,290.77 561.70,289.29 562.79,287.80 563.88,286.32 564.97,284.84 566.05,283.36 567.27,282.00 568.50,280.66 569.73,279.31 570.95,277.97 572.18,276.62 573.41,275.28 574.64,273.94 575.91,272.64 577.18,271.34 578.45,270.04 579.73,268.74 581.00,267.44 582.27,266.13 583.68,264.97 585.11,263.83 586.53,262.68 587.96,261.54 589.66,260.67 591.60,260.03 593.54,259.40 595.47,258.76 597.46,258.18 599.46,257.60 599.72,257.60 599.72,262.43 598.19,262.43 532.00,328.52" fill="#fa4020" filter="url(#b05)"/></g><polygon points="532.00,334.11 572.73,292.93 577.83,292.93 588.01,282.77 593.10,282.77 598.19,277.68 603.28,277.68 613.47,267.52 623.65,267.52 628.74,262.43 633.83,262.43 638.92,257.35 644.02,257.35 649.11,252.27 654.20,252.27 654.20,334.11" fill="#808080" />
<rect x="529.30" y="209.10" width="127.10" height="127.30" fill="none" stroke="#dadada" stroke-width="0.8"/><path d="M532.00 336.40v-2.0M532.00 209.10v2.0M529.30 333.60h2.0M656.40 333.60h-2.0M538.11 336.40v-1.0M538.11 209.10v1.0M529.30 327.50h1.0M656.40 327.50h-1.0M544.22 336.40v-1.0M544.22 209.10v1.0M529.30 321.40h1.0M656.40 321.40h-1.0M550.33 336.40v-1.0M550.33 209.10v1.0M529.30 315.30h1.0M656.40 315.30h-1.0M556.44 336.40v-2.0M556.44 209.10v2.0M529.30 309.20h2.0M656.40 309.20h-2.0M562.55 336.40v-1.0M562.55 209.10v1.0M529.30 303.10h1.0M656.40 303.10h-1.0M568.66 336.40v-1.0M568.66 209.10v1.0M529.30 297.00h1.0M656.40 297.00h-1.0M574.77 336.40v-1.0M574.77 209.10v1.0M529.30 290.90h1.0M656.40 290.90h-1.0M580.88 336.40v-2.0M580.88 209.10v2.0M529.30 284.80h2.0M656.40 284.80h-2.0M586.99 336.40v-1.0M586.99 209.10v1.0M529.30 278.70h1.0M656.40 278.70h-1.0M593.10 336.40v-1.0M593.10 209.10v1.0M529.30 272.60h1.0M656.40 272.60h-1.0M599.21 336.40v-1.0M599.21 209.10v1.0M529.30 266.50h1.0M656.40 266.50h-1.0M605.32 336.40v-2.0M605.32 209.10v2.0M529.30 260.40h2.0M656.40 260.40h-2.0M611.43 336.40v-1.0M611.43 209.10v1.0M529.30 254.30h1.0M656.40 254.30h-1.0M617.54 336.40v-1.0M617.54 209.10v1.0M529.30 248.20h1.0M656.40 248.20h-1.0M623.65 336.40v-1.0M623.65 209.10v1.0M529.30 242.10h1.0M656.40 242.10h-1.0M629.76 336.40v-2.0M629.76 209.10v2.0M529.30 236.00h2.0M656.40 236.00h-2.0M635.87 336.40v-1.0M635.87 209.10v1.0M529.30 229.90h1.0M656.40 229.90h-1.0M641.98 336.40v-1.0M641.98 209.10v1.0M529.30 223.80h1.0M656.40 223.80h-1.0M648.09 336.40v-1.0M648.09 209.10v1.0M529.30 217.70h1.0M656.40 217.70h-1.0M654.20 336.40v-2.0M654.20 209.10v2.0M529.30 211.60h2.0M656.40 211.60h-2.0" stroke="#cfcfcf" stroke-width="0.5" fill="none"/><text transform="translate(532.20 347.40) scale(0.93 1)" class="tk">0</text><text transform="translate(519.00 337) scale(0.93 1)" class="tk">0</text><text transform="translate(556.64 347.40) scale(0.93 1)" class="tk">2</text><text transform="translate(519.00 312) scale(0.93 1)" class="tk">2</text><text transform="translate(581.08 347.40) scale(0.93 1)" class="tk">4</text><text transform="translate(519.00 288) scale(0.93 1)" class="tk">4</text><text transform="translate(605.52 347.40) scale(0.93 1)" class="tk">6</text><text transform="translate(519.00 263) scale(0.93 1)" class="tk">6</text><text transform="translate(629.96 347.40) scale(0.93 1)" class="tk">8</text><text transform="translate(519.00 239) scale(0.93 1)" class="tk">8</text><text transform="translate(654.40 347.40) scale(0.93 1)" class="tk">10</text><text transform="translate(519.00 215) scale(0.93 1)" class="tk">10</text>
<g clip-path="url(#e02)"><polygon points="32.59,485.13 32.59,367.60 73.93,367.60 73.93,372.68 68.84,377.77 68.84,398.10 63.75,403.18 63.75,418.43 58.66,423.52 58.66,433.68 63.75,433.68 68.84,428.60 79.03,428.60 79.03,433.68 73.93,438.77 73.93,443.85 48.48,469.27" fill="#f28c0a" /><polygon points="61.20,367.60 46.95,446.39 45.93,454.02 79.03,428.60 79.03,367.60" fill="#f5a30f" /><polygon points="33.20,484.52 33.20,481.47 33.20,466.22 42.87,455.54 45.42,454.53 36.76,464.69 36.76,480.96" fill="#f5e20e" /><polygon points="33.20,484.52 36.76,479.94 36.76,465.20 45.42,454.53 45.42,449.95 68.33,429.11 68.84,428.60 79.03,428.60 79.03,433.68 73.93,438.77 73.93,443.85 48.48,469.27" fill="#9fde1c" stroke="#f2e20c" stroke-width="0.8"/><polygon points="45.42,454.02 45.42,449.95 68.33,429.11 79.03,428.60 75.97,431.65 68.84,432.16" fill="#7fd94e" /></g><polygon points="33.20,490.11 33.20,484.52 48.48,469.27 53.57,469.27 63.75,459.10 63.75,454.02 84.12,433.68 89.21,433.68 99.39,423.52 104.48,423.52 109.58,418.43 114.67,418.43 119.76,413.35 124.85,413.35 129.94,408.27 135.03,408.27 140.12,403.18 150.31,403.18 155.40,398.10 155.40,490.11" fill="#808080" />
<rect x="30.50" y="365.50" width="127.70" height="126.70" fill="none" stroke="#dadada" stroke-width="0.8"/><path d="M33.20 492.20v-2.0M33.20 365.50v2.0M30.50 489.60h2.0M158.20 489.60h-2.0M39.31 492.20v-1.0M39.31 365.50v1.0M30.50 483.50h1.0M158.20 483.50h-1.0M45.42 492.20v-1.0M45.42 365.50v1.0M30.50 477.40h1.0M158.20 477.40h-1.0M51.53 492.20v-1.0M51.53 365.50v1.0M30.50 471.30h1.0M158.20 471.30h-1.0M57.64 492.20v-2.0M57.64 365.50v2.0M30.50 465.20h2.0M158.20 465.20h-2.0M63.75 492.20v-1.0M63.75 365.50v1.0M30.50 459.10h1.0M158.20 459.10h-1.0M69.86 492.20v-1.0M69.86 365.50v1.0M30.50 453.00h1.0M158.20 453.00h-1.0M75.97 492.20v-1.0M75.97 365.50v1.0M30.50 446.90h1.0M158.20 446.90h-1.0M82.08 492.20v-2.0M82.08 365.50v2.0M30.50 440.80h2.0M158.20 440.80h-2.0M88.19 492.20v-1.0M88.19 365.50v1.0M30.50 434.70h1.0M158.20 434.70h-1.0M94.30 492.20v-1.0M94.30 365.50v1.0M30.50 428.60h1.0M158.20 428.60h-1.0M100.41 492.20v-1.0M100.41 365.50v1.0M30.50 422.50h1.0M158.20 422.50h-1.0M106.52 492.20v-2.0M106.52 365.50v2.0M30.50 416.40h2.0M158.20 416.40h-2.0M112.63 492.20v-1.0M112.63 365.50v1.0M30.50 410.30h1.0M158.20 410.30h-1.0M118.74 492.20v-1.0M118.74 365.50v1.0M30.50 404.20h1.0M158.20 404.20h-1.0M124.85 492.20v-1.0M124.85 365.50v1.0M30.50 398.10h1.0M158.20 398.10h-1.0M130.96 492.20v-2.0M130.96 365.50v2.0M30.50 392.00h2.0M158.20 392.00h-2.0M137.07 492.20v-1.0M137.07 365.50v1.0M30.50 385.90h1.0M158.20 385.90h-1.0M143.18 492.20v-1.0M143.18 365.50v1.0M30.50 379.80h1.0M158.20 379.80h-1.0M149.29 492.20v-1.0M149.29 365.50v1.0M30.50 373.70h1.0M158.20 373.70h-1.0M155.40 492.20v-2.0M155.40 365.50v2.0M30.50 367.60h2.0M158.20 367.60h-2.0" stroke="#cfcfcf" stroke-width="0.5" fill="none"/><text transform="translate(33.40 503.40) scale(0.93 1)" class="tk">0</text><text transform="translate(21.80 493) scale(0.93 1)" class="tk">0</text><text transform="translate(57.84 503.40) scale(0.93 1)" class="tk">2</text><text transform="translate(21.80 468) scale(0.93 1)" class="tk">2</text><text transform="translate(82.28 503.40) scale(0.93 1)" class="tk">4</text><text transform="translate(21.80 444) scale(0.93 1)" class="tk">4</text><text transform="translate(106.72 503.40) scale(0.93 1)" class="tk">6</text><text transform="translate(21.80 419) scale(0.93 1)" class="tk">6</text><text transform="translate(131.16 503.40) scale(0.93 1)" class="tk">8</text><text transform="translate(21.80 395) scale(0.93 1)" class="tk">8</text><text transform="translate(155.60 503.40) scale(0.93 1)" class="tk">10</text><text transform="translate(21.80 371) scale(0.93 1)" class="tk">10</text>
<g clip-path="url(#e12)"><polygon points="188.29,485.13 188.29,367.60 229.63,367.60 229.63,372.68 224.54,377.77 224.54,398.10 219.45,403.18 219.45,418.43 214.36,423.52 214.36,433.68 219.45,433.68 224.54,428.60 229.63,428.60 234.73,423.52 234.73,433.68 229.63,438.77 229.63,443.85 204.18,469.27" fill="#f28c0a" /><polygon points="188.90,484.52 188.90,470.79 195.52,464.44 196.54,459.61 204.68,449.95 209.27,443.34 215.89,438.26 218.43,435.21 219.45,433.68 224.54,428.60 229.63,428.60 234.73,423.52 234.73,433.68 229.63,438.77 229.63,443.85 204.18,469.27" fill="#f5da10" filter="url(#b05)"/><polygon points="217.41,439.78 219.45,433.68 224.54,428.60 229.63,428.60 234.73,423.52 234.73,433.68 229.63,438.77 229.63,443.85 224.54,448.93 218.43,446.90" fill="#f5b810" filter="url(#b05)"/><polygon points="191.45,472.83 195.01,467.23 197.56,469.27 193.48,474.35" fill="#f5ee14" filter="url(#b05)"/></g><polygon points="188.90,490.11 188.90,484.52 204.18,469.27 209.27,469.27 219.45,459.10 219.45,454.02 239.82,433.68 244.91,433.68 255.09,423.52 260.18,423.52 265.27,418.43 270.37,418.43 275.46,413.35 280.55,413.35 285.64,408.27 290.73,408.27 295.83,403.18 306.01,403.18 311.10,398.10 311.10,490.11" fill="#808080" />
<rect x="186.20" y="365.50" width="127.70" height="126.70" fill="none" stroke="#dadada" stroke-width="0.8"/><path d="M188.90 492.20v-2.0M188.90 365.50v2.0M186.20 489.60h2.0M313.90 489.60h-2.0M195.01 492.20v-1.0M195.01 365.50v1.0M186.20 483.50h1.0M313.90 483.50h-1.0M201.12 492.20v-1.0M201.12 365.50v1.0M186.20 477.40h1.0M313.90 477.40h-1.0M207.23 492.20v-1.0M207.23 365.50v1.0M186.20 471.30h1.0M313.90 471.30h-1.0M213.34 492.20v-2.0M213.34 365.50v2.0M186.20 465.20h2.0M313.90 465.20h-2.0M219.45 492.20v-1.0M219.45 365.50v1.0M186.20 459.10h1.0M313.90 459.10h-1.0M225.56 492.20v-1.0M225.56 365.50v1.0M186.20 453.00h1.0M313.90 453.00h-1.0M231.67 492.20v-1.0M231.67 365.50v1.0M186.20 446.90h1.0M313.90 446.90h-1.0M237.78 492.20v-2.0M237.78 365.50v2.0M186.20 440.80h2.0M313.90 440.80h-2.0M243.89 492.20v-1.0M243.89 365.50v1.0M186.20 434.70h1.0M313.90 434.70h-1.0M250.00 492.20v-1.0M250.00 365.50v1.0M186.20 428.60h1.0M313.90 428.60h-1.0M256.11 492.20v-1.0M256.11 365.50v1.0M186.20 422.50h1.0M313.90 422.50h-1.0M262.22 492.20v-2.0M262.22 365.50v2.0M186.20 416.40h2.0M313.90 416.40h-2.0M268.33 492.20v-1.0M268.33 365.50v1.0M186.20 410.30h1.0M313.90 410.30h-1.0M274.44 492.20v-1.0M274.44 365.50v1.0M186.20 404.20h1.0M313.90 404.20h-1.0M280.55 492.20v-1.0M280.55 365.50v1.0M186.20 398.10h1.0M313.90 398.10h-1.0M286.66 492.20v-2.0M286.66 365.50v2.0M186.20 392.00h2.0M313.90 392.00h-2.0M292.77 492.20v-1.0M292.77 365.50v1.0M186.20 385.90h1.0M313.90 385.90h-1.0M298.88 492.20v-1.0M298.88 365.50v1.0M186.20 379.80h1.0M313.90 379.80h-1.0M304.99 492.20v-1.0M304.99 365.50v1.0M186.20 373.70h1.0M313.90 373.70h-1.0M311.10 492.20v-2.0M311.10 365.50v2.0M186.20 367.60h2.0M313.90 367.60h-2.0" stroke="#cfcfcf" stroke-width="0.5" fill="none"/><text transform="translate(189.10 503.40) scale(0.93 1)" class="tk">0</text><text transform="translate(177.50 493) scale(0.93 1)" class="tk">0</text><text transform="translate(213.54 503.40) scale(0.93 1)" class="tk">2</text><text transform="translate(177.50 468) scale(0.93 1)" class="tk">2</text><text transform="translate(237.98 503.40) scale(0.93 1)" class="tk">4</text><text transform="translate(177.50 444) scale(0.93 1)" class="tk">4</text><text transform="translate(262.42 503.40) scale(0.93 1)" class="tk">6</text><text transform="translate(177.50 419) scale(0.93 1)" class="tk">6</text><text transform="translate(286.86 503.40) scale(0.93 1)" class="tk">8</text><text transform="translate(177.50 395) scale(0.93 1)" class="tk">8</text><text transform="translate(311.30 503.40) scale(0.93 1)" class="tk">10</text><text transform="translate(177.50 371) scale(0.93 1)" class="tk">10</text>
<g clip-path="url(#e22)"><polygon points="344.29,485.13 344.29,367.60 385.63,367.60 385.63,372.68 380.54,377.77 380.54,398.10 375.45,403.18 375.45,418.43 370.36,423.52 370.36,433.68 375.45,433.68 380.54,428.60 385.63,428.60 390.72,423.52 390.72,433.68 385.63,438.77 385.63,443.85 360.17,469.27" fill="#e50f0a" /><polygon points="344.90,484.52 346.43,476.89 352.54,462.15 353.05,458.08 361.19,449.95 361.70,445.88 378.00,430.12 385.63,428.60 390.72,423.52 390.72,433.68 385.63,438.77 385.63,443.85 360.17,469.27" fill="#f47c0e" /><polygon points="361.70,445.88 378.00,430.12 385.63,428.60 390.72,423.52 390.72,433.68 385.63,438.77 385.63,441.82 376.47,443.85 366.28,446.90 361.70,450.46" fill="#f7930f" /></g><polygon points="344.90,490.11 344.90,484.52 360.17,469.27 365.27,469.27 375.45,459.10 375.45,454.02 395.82,433.68 400.91,433.68 411.09,423.52 416.18,423.52 421.27,418.43 426.37,418.43 431.46,413.35 436.55,413.35 441.64,408.27 446.73,408.27 451.82,403.18 462.01,403.18 467.10,398.10 467.10,490.11" fill="#808080" />
<rect x="342.20" y="365.50" width="127.70" height="126.70" fill="none" stroke="#dadada" stroke-width="0.8"/><path d="M344.90 492.20v-2.0M344.90 365.50v2.0M342.20 489.60h2.0M469.90 489.60h-2.0M351.01 492.20v-1.0M351.01 365.50v1.0M342.20 483.50h1.0M469.90 483.50h-1.0M357.12 492.20v-1.0M357.12 365.50v1.0M342.20 477.40h1.0M469.90 477.40h-1.0M363.23 492.20v-1.0M363.23 365.50v1.0M342.20 471.30h1.0M469.90 471.30h-1.0M369.34 492.20v-2.0M369.34 365.50v2.0M342.20 465.20h2.0M469.90 465.20h-2.0M375.45 492.20v-1.0M375.45 365.50v1.0M342.20 459.10h1.0M469.90 459.10h-1.0M381.56 492.20v-1.0M381.56 365.50v1.0M342.20 453.00h1.0M469.90 453.00h-1.0M387.67 492.20v-1.0M387.67 365.50v1.0M342.20 446.90h1.0M469.90 446.90h-1.0M393.78 492.20v-2.0M393.78 365.50v2.0M342.20 440.80h2.0M469.90 440.80h-2.0M399.89 492.20v-1.0M399.89 365.50v1.0M342.20 434.70h1.0M469.90 434.70h-1.0M406.00 492.20v-1.0M406.00 365.50v1.0M342.20 428.60h1.0M469.90 428.60h-1.0M412.11 492.20v-1.0M412.11 365.50v1.0M342.20 422.50h1.0M469.90 422.50h-1.0M418.22 492.20v-2.0M418.22 365.50v2.0M342.20 416.40h2.0M469.90 416.40h-2.0M424.33 492.20v-1.0M424.33 365.50v1.0M342.20 410.30h1.0M469.90 410.30h-1.0M430.44 492.20v-1.0M430.44 365.50v1.0M342.20 404.20h1.0M469.90 404.20h-1.0M436.55 492.20v-1.0M436.55 365.50v1.0M342.20 398.10h1.0M469.90 398.10h-1.0M442.66 492.20v-2.0M442.66 365.50v2.0M342.20 392.00h2.0M469.90 392.00h-2.0M448.77 492.20v-1.0M448.77 365.50v1.0M342.20 385.90h1.0M469.90 385.90h-1.0M454.88 492.20v-1.0M454.88 365.50v1.0M342.20 379.80h1.0M469.90 379.80h-1.0M460.99 492.20v-1.0M460.99 365.50v1.0M342.20 373.70h1.0M469.90 373.70h-1.0M467.10 492.20v-2.0M467.10 365.50v2.0M342.20 367.60h2.0M469.90 367.60h-2.0" stroke="#cfcfcf" stroke-width="0.5" fill="none"/><text transform="translate(345.10 503.40) scale(0.93 1)" class="tk">0</text><text transform="translate(333.50 493) scale(0.93 1)" class="tk">0</text><text transform="translate(369.54 503.40) scale(0.93 1)" class="tk">2</text><text transform="translate(333.50 468) scale(0.93 1)" class="tk">2</text><text transform="translate(393.98 503.40) scale(0.93 1)" class="tk">4</text><text transform="translate(333.50 444) scale(0.93 1)" class="tk">4</text><text transform="translate(418.42 503.40) scale(0.93 1)" class="tk">6</text><text transform="translate(333.50 419) scale(0.93 1)" class="tk">6</text><text transform="translate(442.86 503.40) scale(0.93 1)" class="tk">8</text><text transform="translate(333.50 395) scale(0.93 1)" class="tk">8</text><text transform="translate(467.30 503.40) scale(0.93 1)" class="tk">10</text><text transform="translate(333.50 371) scale(0.93 1)" class="tk">10</text>
<g clip-path="url(#e32)"><polygon points="531.39,485.13 531.39,367.60 572.73,367.60 572.73,372.68 567.64,377.77 567.64,398.10 562.55,403.18 562.55,418.43 557.46,423.52 557.46,433.68 562.55,433.68 567.64,428.60 577.83,428.60 577.83,433.68 572.73,438.77 572.73,443.85 547.27,469.27" fill="#27f24f" /><polygon points="560.51,367.60 547.27,398.10 532.00,431.14 532.00,484.52 577.83,484.52 577.83,367.60" fill="#26ea5c" filter="url(#b15)"/><polygon points="570.70,367.60 557.46,398.10 545.24,426.57 532.00,448.93 532.00,484.52 577.83,484.52 577.83,367.60" fill="#25dc72" filter="url(#b15)"/><polygon points="567.64,403.18 555.42,418.43 542.18,440.80 532.00,460.12 532.00,484.52 577.83,484.52 577.83,418.43 567.64,418.43" fill="#23c88c" filter="url(#b15)"/><polygon points="557.46,426.57 543.20,443.85 532.00,467.23 532.00,484.52 577.83,438.77 577.83,428.60 562.55,426.57" fill="#20b0a8" filter="url(#b1)"/><polygon points="554.40,433.68 542.18,448.93 532.00,473.33 532.00,484.52 577.83,438.77 577.83,428.60 562.55,427.58" fill="#1e94c4" filter="url(#b1)"/><polygon points="532.00,484.52 532.00,479.43 535.56,467.23 541.67,453.00 548.29,442.83 557.46,434.19 563.57,428.60 577.83,428.60 577.83,443.85 547.27,469.27" fill="#2c56ea" filter="url(#b05)"/><polygon points="533.02,481.98 536.58,469.27 542.69,454.02 549.31,443.85 558.48,434.70 564.59,429.11 577.83,429.11 577.83,443.85 547.27,469.27 535.05,481.47" fill="#6a28e6" filter="url(#b05)"/><polygon points="536.58,479.94 539.13,468.25 544.73,454.02 550.33,444.36 558.99,435.21 565.10,429.11 577.83,429.11 577.83,443.85 547.27,469.27" fill="#b82a8c" filter="url(#b05)"/><polygon points="541.16,475.37 543.20,465.20 547.27,454.02 551.35,444.87 559.50,435.72 565.61,428.60 577.83,428.60 577.83,443.85 547.27,469.27" fill="#de3650" filter="url(#b05)"/><polygon points="549.31,467.23 549.82,459.10 551.35,446.39 560.00,436.23 565.61,429.62 567.64,427.08 579.35,427.08 579.35,443.85 552.37,464.18" fill="#fa4020" filter="url(#b05)"/></g><polygon points="532.00,490.11 532.00,484.52 547.27,469.27 552.37,469.27 562.55,459.10 562.55,454.02 582.92,433.68 588.01,433.68 598.19,423.52 603.28,423.52 608.38,418.43 613.47,418.43 618.56,413.35 623.65,413.35 628.74,408.27 633.83,408.27 638.92,403.18 649.11,403.18 654.20,398.10 654.20,490.11" fill="#808080" />
<rect x="529.30" y="365.15" width="127.10" height="127.25" fill="none" stroke="#dadada" stroke-width="0.8"/><path d="M532.00 492.40v-2.0M532.00 365.15v2.0M529.30 489.60h2.0M656.40 489.60h-2.0M538.11 492.40v-1.0M538.11 365.15v1.0M529.30 483.50h1.0M656.40 483.50h-1.0M544.22 492.40v-1.0M544.22 365.15v1.0M529.30 477.40h1.0M656.40 477.40h-1.0M550.33 492.40v-1.0M550.33 365.15v1.0M529.30 471.30h1.0M656.40 471.30h-1.0M556.44 492.40v-2.0M556.44 365.15v2.0M529.30 465.20h2.0M656.40 465.20h-2.0M562.55 492.40v-1.0M562.55 365.15v1.0M529.30 459.10h1.0M656.40 459.10h-1.0M568.66 492.40v-1.0M568.66 365.15v1.0M529.30 453.00h1.0M656.40 453.00h-1.0M574.77 492.40v-1.0M574.77 365.15v1.0M529.30 446.90h1.0M656.40 446.90h-1.0M580.88 492.40v-2.0M580.88 365.15v2.0M529.30 440.80h2.0M656.40 440.80h-2.0M586.99 492.40v-1.0M586.99 365.15v1.0M529.30 434.70h1.0M656.40 434.70h-1.0M593.10 492.40v-1.0M593.10 365.15v1.0M529.30 428.60h1.0M656.40 428.60h-1.0M599.21 492.40v-1.0M599.21 365.15v1.0M529.30 422.50h1.0M656.40 422.50h-1.0M605.32 492.40v-2.0M605.32 365.15v2.0M529.30 416.40h2.0M656.40 416.40h-2.0M611.43 492.40v-1.0M611.43 365.15v1.0M529.30 410.30h1.0M656.40 410.30h-1.0M617.54 492.40v-1.0M617.54 365.15v1.0M529.30 404.20h1.0M656.40 404.20h-1.0M623.65 492.40v-1.0M623.65 365.15v1.0M529.30 398.10h1.0M656.40 398.10h-1.0M629.76 492.40v-2.0M629.76 365.15v2.0M529.30 392.00h2.0M656.40 392.00h-2.0M635.87 492.40v-1.0M635.87 365.15v1.0M529.30 385.90h1.0M656.40 385.90h-1.0M641.98 492.40v-1.0M641.98 365.15v1.0M529.30 379.80h1.0M656.40 379.80h-1.0M648.09 492.40v-1.0M648.09 365.15v1.0M529.30 373.70h1.0M656.40 373.70h-1.0M654.20 492.40v-2.0M654.20 365.15v2.0M529.30 367.60h2.0M656.40 367.60h-2.0" stroke="#cfcfcf" stroke-width="0.5" fill="none"/><text transform="translate(532.20 503.40) scale(0.93 1)" class="tk">0</text><text transform="translate(519.00 493) scale(0.93 1)" class="tk">0</text><text transform="translate(556.64 503.40) scale(0.93 1)" class="tk">2</text><text transform="translate(519.00 468) scale(0.93 1)" class="tk">2</text><text transform="translate(581.08 503.40) scale(0.93 1)" class="tk">4</text><text transform="translate(519.00 444) scale(0.93 1)" class="tk">4</text><text transform="translate(605.52 503.40) scale(0.93 1)" class="tk">6</text><text transform="translate(519.00 419) scale(0.93 1)" class="tk">6</text><text transform="translate(629.96 503.40) scale(0.93 1)" class="tk">8</text><text transform="translate(519.00 395) scale(0.93 1)" class="tk">8</text><text transform="translate(654.40 503.40) scale(0.93 1)" class="tk">10</text><text transform="translate(519.00 371) scale(0.93 1)" class="tk">10</text>
<circle cx="57.3" cy="141.7" r="2.55" fill="#000"/>
<text x="58.5" y="134.1" class="pt">1a</text>
<circle cx="55.5" cy="428.5" r="2.55" fill="#000"/>
<text x="53.5" y="420.1" class="pt">1c</text>
<rect x="477" y="56.10" width="4.9" height="121.80" fill="url(#cb1)"/>
<text transform="translate(488.2 59) scale(0.93 1)" class="cb">0</text>
<text transform="translate(488.2 89) scale(0.93 1)" class="cb">-0.25</text>
<text transform="translate(488.2 119) scale(0.93 1)" class="cb">-0.50</text>
<text transform="translate(488.2 150) scale(0.93 1)" class="cb">-0.75</text>
<text transform="translate(488.2 180) scale(0.93 1)" class="cb">-1</text>
<rect x="664.3" y="53.00" width="5.3" height="125.70" fill="url(#cb2)"/>
<text transform="translate(673.70 59.60) scale(0.93 1)" class="cb">1.0</text>
<text transform="translate(673.70 89.75) scale(0.93 1)" class="cb">0.5</text>
<text transform="translate(673.70 119.90) scale(0.93 1)" class="cb">0</text>
<text transform="translate(672.30 150.05) scale(0.93 1)" class="cb">-0.5</text>
<text transform="translate(672.30 180.20) scale(0.93 1)" class="cb">-1.0</text>
<rect x="477" y="212.10" width="4.9" height="121.80" fill="url(#cb1)"/>
<text transform="translate(488.2 215) scale(0.93 1)" class="cb">0</text>
<text transform="translate(488.2 245) scale(0.93 1)" class="cb">-0.25</text>
<text transform="translate(488.2 275) scale(0.93 1)" class="cb">-0.50</text>
<text transform="translate(488.2 306) scale(0.93 1)" class="cb">-0.75</text>
<text transform="translate(488.2 336) scale(0.93 1)" class="cb">-1</text>
<rect x="664.3" y="211.70" width="5.3" height="122.00" fill="url(#cb2)"/>
<text transform="translate(673.70 215.60) scale(0.93 1)" class="cb">1.0</text>
<text transform="translate(673.70 245.62) scale(0.93 1)" class="cb">0.5</text>
<text transform="translate(673.70 275.65) scale(0.93 1)" class="cb">0</text>
<text transform="translate(672.30 305.67) scale(0.93 1)" class="cb">-0.5</text>
<text transform="translate(672.30 335.70) scale(0.93 1)" class="cb">-1.0</text>
<rect x="477" y="368.10" width="4.9" height="121.80" fill="url(#cb1)"/>
<text transform="translate(488.2 371) scale(0.93 1)" class="cb">0</text>
<text transform="translate(488.2 401) scale(0.93 1)" class="cb">-0.25</text>
<text transform="translate(488.2 431) scale(0.93 1)" class="cb">-0.50</text>
<text transform="translate(488.2 462) scale(0.93 1)" class="cb">-0.75</text>
<text transform="translate(488.2 492) scale(0.93 1)" class="cb">-1</text>
<rect x="664.3" y="365.80" width="5.3" height="125.80" fill="url(#cb2)"/>
<text transform="translate(673.70 370.80) scale(0.93 1)" class="cb">1.0</text>
<text transform="translate(673.70 400.85) scale(0.93 1)" class="cb">0.5</text>
<text transform="translate(673.70 430.90) scale(0.93 1)" class="cb">0</text>
<text transform="translate(672.30 460.95) scale(0.93 1)" class="cb">-0.5</text>
<text transform="translate(672.30 491.00) scale(0.93 1)" class="cb">-1.0</text>
<rect x="507.3" y="1" width="1.9" height="513.7" fill="#000"/>
<text x="235.4" y="17.4" class="ttl" textLength="49" lengthAdjust="spacingAndGlyphs">phase lag</text>
<text x="538.9" y="16.6" class="ttl" textLength="119.4" lengthAdjust="spacingAndGlyphs">component correlation</text>
<text x="58.9" y="37.7" class="sub" textLength="69" lengthAdjust="spacingAndGlyphs">predator – prey</text>
<text x="199.2" y="37.7" class="sub" textLength="109.7" lengthAdjust="spacingAndGlyphs">predator – effective prey</text>
<text x="364.9" y="37.7" class="sub" textLength="90.1" lengthAdjust="spacingAndGlyphs">prey – effective prey</text>
<text class="sub" font-style="italic" font-size="9.4"><tspan x="574.5" y="38.4" style="font-size:9.4px">E</tspan><tspan class="ss" x="579.3" y="40.5">x</tspan><tspan class="sp" x="583.9" y="34.0">(y)</tspan><tspan x="593.3" y="38.4" style="font-size:9.4px">–</tspan><tspan x="601.6" y="38.4" style="font-size:9.4px">E</tspan><tspan class="ss" x="606.8" y="40.5">u</tspan><tspan class="sp" x="610.9" y="34.0">(y)</tspan></text>
<text x="1.2" y="63.60" class="let">a</text>
<text x="1.2" y="219.60" class="let">b</text>
<text x="1.2" y="375.60" class="let">c</text>
<text transform="translate(8.1 116.30) rotate(-90)" class="ax" text-anchor="middle">cost defense (<tspan font-style="italic">c</tspan><tspan class="sb" font-style="italic" dy="1.6">x</tspan><tspan dy="-1.6">)</tspan></text>
<text transform="translate(8.1 272.30) rotate(-90)" class="ax" text-anchor="middle">cost defense (<tspan font-style="italic">c</tspan><tspan class="sb" font-style="italic" dy="1.6">x</tspan><tspan dy="-1.6">)</tspan></text>
<text transform="translate(8.1 428.30) rotate(-90)" class="ax" text-anchor="middle">cost defense (<tspan font-style="italic">c</tspan><tspan class="sb" font-style="italic" dy="1.6">x</tspan><tspan dy="-1.6">)</tspan></text>
<text x="98.40" y="518.4" class="ax" text-anchor="middle">cost offense (<tspan font-style="italic">c</tspan><tspan class="sb" font-style="italic" dy="1.6">y</tspan><tspan dy="-1.6">)</tspan></text>
<text x="254.00" y="518.4" class="ax" text-anchor="middle">cost offense (<tspan font-style="italic">c</tspan><tspan class="sb" font-style="italic" dy="1.6">y</tspan><tspan dy="-1.6">)</tspan></text>
<text x="409.80" y="518.4" class="ax" text-anchor="middle">cost offense (<tspan font-style="italic">c</tspan><tspan class="sb" font-style="italic" dy="1.6">y</tspan><tspan dy="-1.6">)</tspan></text>
<text x="597.00" y="518.4" class="ax" text-anchor="middle">cost offense (<tspan font-style="italic">c</tspan><tspan class="sb" font-style="italic" dy="1.6">y</tspan><tspan dy="-1.6">)</tspan></text>
</svg>
</body></html>
